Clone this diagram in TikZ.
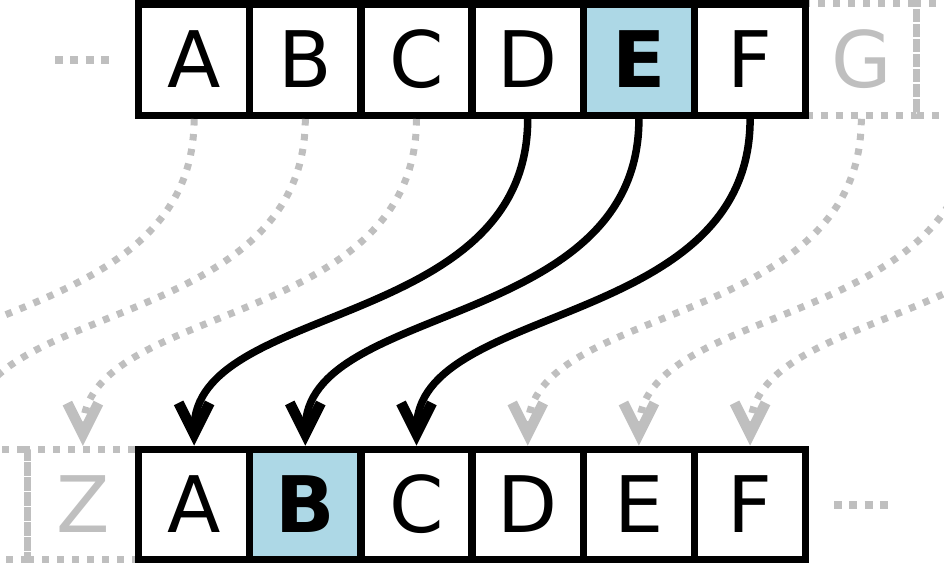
\documentclass[tikz,border=0pt]{standalone}
\usepackage{fontspec}
\setmainfont{DejaVu Sans}
\usetikzlibrary{arrows.meta}
\definecolor{lgray}{HTML}{BFBFBF}
\definecolor{hblue}{HTML}{ADD8E6}
\begin{document}
\begin{tikzpicture}[x=1pt,y=-1pt,
  letter/.style={font=\fontsize{78}{80}\selectfont},
  cell/.style={letter, draw=black, line width=7.5pt, minimum width=111.2pt, minimum height=111.5pt, inner sep=0pt},
  lowcell/.style={cell, minimum height=110pt},
  hl/.style={fill=hblue, font=\fontsize{78}{80}\selectfont\bfseries},
  ghost/.style={letter, draw=lgray, text=lgray, line width=7pt, dash pattern=on 7pt off 8pt, minimum width=111.2pt, minimum height=111.5pt, inner sep=0pt},
  lowghost/.style={ghost, minimum height=110pt},
  tip/.style={-{Straight Barb[length=31pt,width=31pt,line width=10.5pt]}},
  shiftarrow/.style={tip, black, line width=7.5pt},
  gshift/.style={tip, lgray, line width=7pt, dash pattern=on 6.5pt off 8.5pt},
  gdots/.style={lgray, line width=7.5pt, dash pattern=on 8pt off 7.3pt}
]
\useasboundingbox (0,0) rectangle (944,566);
\clip (0,0) rectangle (944,566);

% ghost cells
\node[ghost] (tG) at (861.3,59.5) {G};
\node[ghost] (tH) at (972.5,59.5) {};
\node[lowghost] (bZ) at (82.9,504.4) {Z};
\node[lowghost] (bY) at (-28.3,504.4) {};
\coordinate (tI) at (1083.7,118.8);
\coordinate (bX) at (-139.5,445.9);

% top row
\node[cell] (tA) at (194.1,59.5) {A};
\node[cell] (tB) at (305.3,59.5) {B};
\node[cell] (tC) at (416.5,59.5) {C};
\node[cell] (tD) at (527.7,59.5) {D};
\node[cell,hl] (tE) at (638.9,59.5) {E};
\node[cell] (tF) at (750.1,59.5) {F};

% bottom row
\node[lowcell] (bA) at (194.1,504.4) {A};
\node[lowcell,hl] (bB) at (305.3,504.4) {B};
\node[lowcell] (bC) at (416.5,504.4) {C};
\node[lowcell] (bD) at (527.7,504.4) {D};
\node[lowcell] (bE) at (638.9,504.4) {E};
\node[lowcell] (bF) at (750.1,504.4) {F};

% ellipses
\coordinate (l1) at (55,60);
\coordinate (l2) at (112,60);
\coordinate (r1) at (834,505);
\coordinate (r2) at (891,505);
\draw[gdots] (l1) -- (l2);
\draw[gdots] (r1) -- (r2);

% gray shifts
\draw[gshift] (tA.south) .. controls +(0,212) and +(0,-144) .. (bX);
\draw[gshift] (tB.south) .. controls +(0,212) and +(0,-144) .. (bY.north);
\draw[gshift] (tC.south) .. controls +(0,212) and +(0,-144) .. (bZ.north);
\draw[gshift] (tG.south) .. controls +(0,212) and +(0,-144) .. (bD.north);
\draw[gshift] (tH.south) .. controls +(0,212) and +(0,-144) .. (bE.north);
\draw[gshift] (tI) .. controls +(0,212) and +(0,-144) .. (bF.north);

% black shifts
\draw[shiftarrow] (tD.south) .. controls +(0,212) and +(0,-144) .. (bA.north);
\draw[shiftarrow] (tE.south) .. controls +(0,212) and +(0,-144) .. (bB.north);
\draw[shiftarrow] (tF.south) .. controls +(0,212) and +(0,-144) .. (bC.north);
\end{tikzpicture}
\end{document}
